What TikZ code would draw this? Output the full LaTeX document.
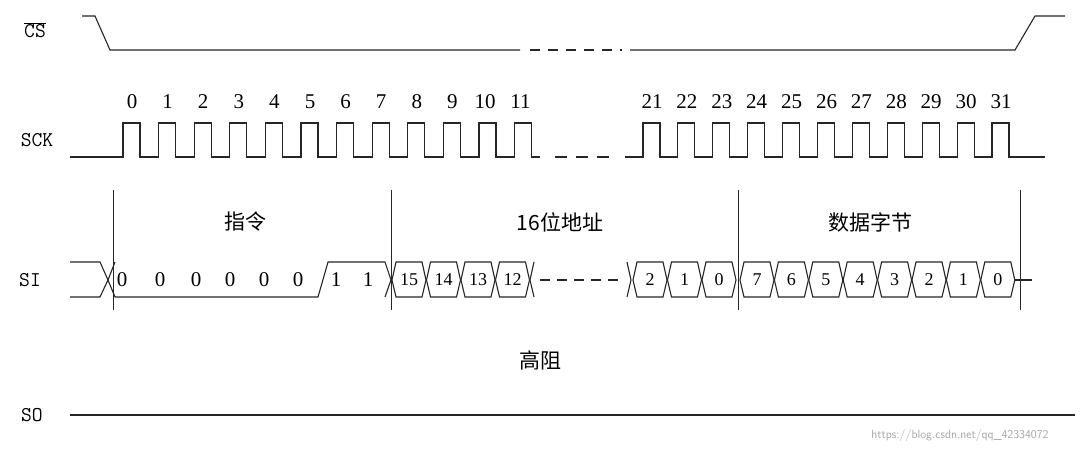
\documentclass[tikz,border=0pt]{standalone}
\usepackage{fontspec}
\setmainfont{Liberation Serif}
\newfontfamily\cjk{Noto Sans CJK SC}
\begin{document}
\begin{tikzpicture}[x=1pt,y=-1pt,
  sig/.style={line width=1.1pt,black!85},
  lbl/.style={font=\fontsize{21}{21}\selectfont\ttfamily},
  num/.style={font=\fontsize{21}{21}\selectfont},
  cell/.style={font=\fontsize{18}{18}\selectfont},
  cn/.style={font=\cjk\fontsize{21}{21}\selectfont}]
\useasboundingbox[fill=white] (0,0) rectangle (1080,451);
% labels
\node[lbl] (lcs) at (35,30) {$\overline{\mbox{CS}}$};
\node[lbl] (lsck) at (37,140) {SCK};
\node[lbl] (lsi) at (30,280) {SI};
\node[lbl] (lso) at (32,415) {SO};
% CS
\draw[sig] (82,16) -- (95,16) -- (110,50) -- (520,50);
\draw[sig,dash pattern=on 10pt off 8pt] (530,50) -- (622,50);
\draw[sig] (630,50) -- (1015,50) -- (1035,16) -- (1065,16);
% SCK
\draw[sig] (70,157) -- (123,157)
  \foreach \k in {0,...,11}{ -- ({123+35.6*\k},157) -- ({123+35.6*\k},123) -- ({140+35.6*\k},123) -- ({140+35.6*\k},157)} -- (540,157);
\draw[sig,dash pattern=on 12pt off 9pt] (555,157) -- (615,157);
\draw[sig] (625,157) -- (643,157)
  \foreach \k in {0,...,10}{ -- ({643+34.9*\k},157) -- ({643+34.9*\k},123) -- ({660+34.9*\k},123) -- ({660+34.9*\k},157)} -- (1045,157);
\foreach \k in {0,...,9}{\node[num] (c\k) at ({132+35.6*\k},102) {\k};}
\node[num,inner sep=0pt] (c10) at ({132+35.6*10-3},102) {10};
\node[num,inner sep=0pt] (c11) at ({132+35.6*11-3},102) {11};
\foreach \k in {21,...,31}{\node[num,inner sep=0pt] (c\k) at ({652+34.9*(\k-21)},102) {\k};}
% separators
\foreach \x/\n in {113/a,391/b,738/c,1020/d}{\draw[sig,line width=0.9pt] (\x,190) -- (\x,310) coordinate (sep\n);}
\node[cn] (t1) at (245,222) {指令};
\node[cn] (t2) at (560,222) {16位地址};
\node[cn] (t3) at (870,222) {数据字节};
% SI
\draw[sig] (70,262) -- (100,262) -- (108,280) -- (115,297) -- (318,297) -- (328,262) -- (385,262) -- (391,280);
\draw[sig] (70,297) -- (100,297) -- (108,280) -- (115,262);
\draw[sig] (391,280) -- (385,297);
\foreach \x/\t in {122/0,160/0,196/0,230/0,264/0,298/0,336/1,368/1}{\node[num] at (\x,280) {\t};}
\foreach \i/\t in {0/15,1/14,2/13,3/12}{
  \draw[sig] ({392+34.5*\i},280) -- ({396+34.5*\i},262) -- ({422+34.5*\i},262) -- ({426+34.5*\i},280) -- ({422+34.5*\i},297) -- ({396+34.5*\i},297) -- cycle;
  \node[cell,inner sep=0pt] (a\t) at ({409+34.5*\i},280) {\t};}
\draw[sig] (534,262) -- (530,280) -- (534,297);
\draw[sig,dash pattern=on 10pt off 7pt] (540,280) -- (622,280);
\draw[sig] (627,262) -- (631,280) -- (627,297);
\foreach \i/\t in {0/2,1/1,2/0}{
  \draw[sig] ({633+34.5*\i},280) -- ({637+34.5*\i},262) -- ({663+34.5*\i},262) -- ({667+34.5*\i},280) -- ({663+34.5*\i},297) -- ({637+34.5*\i},297) -- cycle;
  \node[cell] (b\t) at ({650+34.5*\i},280) {\t};}
\foreach \i/\t in {0/7,1/6,2/5,3/4,4/3,5/2,6/1,7/0}{
  \draw[sig] ({740+34.4*\i},280) -- ({744+34.4*\i},262) -- ({770+34.4*\i},262) -- ({774+34.4*\i},280) -- ({770+34.4*\i},297) -- ({744+34.4*\i},297) -- cycle;
  \node[cell] (d\t) at ({757+34.4*\i},280) {\t};}
\draw[sig] (1015,280) -- (1032,280);
% SO
\node[cn] (t4) at (540,360) {高阻};
\draw[sig] (70,415) -- (512,415);
\draw[sig,line width=1.5pt] (512,415) -- (1075,415);
\node[font=\sffamily\fontsize{12}{12}\selectfont,text=black!35] (wm) at (960,435) {https://blog.csdn.net/qq\_42334072};
\end{tikzpicture}
\end{document}
